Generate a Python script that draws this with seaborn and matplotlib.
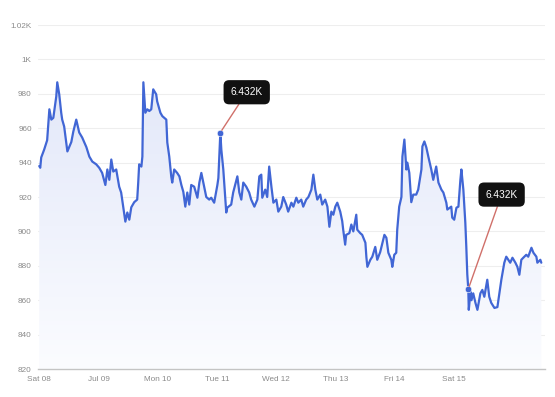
import numpy as np
import pandas as pd
import matplotlib
matplotlib.use('Agg')
import matplotlib.pyplot as plt
import seaborn as sns

# hours since Sat 2023-07-08 00:00
hours = [
    0.0, 0.4, 0.8, 2.0, 3.2, 4.1, 4.9, 5.7, 6.9, 7.3, 8.1, 8.9, 9.3, 10.1, 11.4,
    13.0, 13.8, 15.0, 16.2, 17.4, 19.1, 20.3, 21.5, 23.1, 24.3, 25.5, 26.8, 27.6,
    28.4, 29.2, 30.0, 31.2, 32.4, 33.2, 34.1, 34.9, 35.7, 36.5, 37.3, 38.5, 39.7,
    40.1, 40.5, 41.4, 41.8, 42.2, 43.0, 43.8, 44.6, 45.4, 46.2, 47.4, 47.8, 49.1,
    49.9, 51.5, 51.9, 52.7, 53.5, 53.9, 54.7, 55.9, 56.8, 57.6, 58.4, 59.2, 60.0,
    60.8, 61.6, 62.8, 64.1, 64.9, 65.7, 66.9, 67.7, 68.9, 69.7, 70.9, 72.2, 72.6,
    73.4, 73.8, 74.6, 75.8, 76.2, 77.8, 78.6, 80.3, 81.1, 81.9, 82.7, 83.9, 85.1,
    85.9, 87.2, 88.4, 89.2, 90.0, 90.4, 91.6, 92.4, 93.2, 94.1, 94.9, 96.1, 96.9,
    98.1, 98.9, 100.1, 100.9, 102.2, 103.0, 104.2, 105.0, 106.2, 107.0, 108.2,
    109.1, 110.3, 111.1, 111.9, 112.7, 113.9, 114.7, 115.9, 116.8, 117.6, 118.4,
    119.2, 120.0, 120.8, 122.0, 122.8, 123.2, 124.0, 124.4, 125.7, 126.5, 127.3,
    128.5, 128.9, 130.1, 130.9, 132.2, 132.6, 133.0, 134.2, 135.0, 136.2, 137.0,
    138.2, 139.1, 139.9, 140.7, 141.5, 142.7, 143.1, 143.9, 144.7, 145.1, 145.9,
    146.8, 147.2, 148.0, 148.8, 149.2, 150.0, 150.8, 151.6, 152.8, 153.6, 154.9,
    155.3, 156.1, 156.9, 157.7, 158.9, 159.7, 160.9, 161.8, 163.0, 163.8, 165.0,
    165.4, 167.0, 167.4, 168.2, 169.1, 169.9, 170.7, 171.1, 171.9, 172.7, 173.1,
    173.5, 173.9, 174.1, 174.8, 175.2, 175.9, 176.8, 177.6, 178.8, 179.6, 180.4,
    181.6, 182.4, 183.2, 184.5, 185.7, 186.5, 187.3, 188.5, 189.3, 190.1, 190.9,
    191.8, 193.0, 193.8, 194.6, 195.4, 196.2, 197.4, 198.2, 199.5, 200.3, 201.5,
    201.9, 203.1, 203.5,
]
values = [
    938, 937, 943, 947.6, 953, 971, 965, 966, 978.5, 986.7, 979.7, 969, 965, 961, 946.5,
    952, 958, 965, 957.5, 954.6, 949, 943.5, 940.6, 939, 937, 934, 927, 936,
    930, 941.8, 934.8, 936, 926, 922.6, 913.8, 905.7, 911, 906.8, 914, 917, 918.5,
    928, 939, 937.7, 943.5, 986.7, 969, 971, 970, 971, 982.6, 979.7, 975.6, 969,
    967, 965, 951.7, 943.5, 932, 928.4, 936, 934, 932, 927, 923, 914.4, 922.6,
    915.6, 927, 926, 919.6, 928.4, 934, 925.5, 920, 918.5, 919.6, 916.7, 927, 931,
    957.5, 947.6, 936, 911, 913.8, 915.6, 922.6, 932, 922.6, 918.5, 928.4, 926, 922.6,
    918.5, 914.4, 918.5, 932, 933, 919.6, 924.3, 920, 937.7, 926, 916.7, 918.5, 911.5,
    914.4, 920, 915.6, 911.5, 916.7, 914.4, 919.6, 916.7, 918.5, 914.4, 918.5,
    920, 924.3, 933, 924.3, 918.5, 921.4, 915.6, 918.5, 914.4, 902.7, 911.5,
    909.7, 914.4, 916.7, 911.5, 906, 901, 892.3, 898, 899, 904, 900,
    909.7, 901, 899, 898, 893.4, 885, 879.4, 883.5, 885.3, 891, 883.5,
    888, 893.4, 898, 896.3, 887.6, 883.5, 879.4, 886.4, 887.6, 901, 914.4,
    920, 943.5, 953.4, 936, 940, 934, 917, 921.4, 921.4, 924.3, 936,
    949.4, 952.3, 948.8, 943.5, 936, 930, 937.7, 928.4, 924.3, 922.6, 916.7,
    912.7, 914.4, 908, 906.8, 913.8, 914.4, 930, 936, 924.3, 905, 891,
    875, 866.5, 854.4, 865, 860, 864, 858.5, 854.4, 864, 866, 862,
    871.9, 862, 858.5, 855.5, 856, 864, 871.9, 881.8, 885.3, 883.5, 881.8,
    884.7, 881.8, 879.4, 874.8, 883.5, 884.7, 886.4, 885.3, 890.5, 887.6, 885.3,
    881.8, 883.5, 881.8,
]
annotated_hours = [73.4, 173.9]
annotation_text = '6.432K'

x_tick_labels = ['Sat 08', 'Jul 09', 'Mon 10', 'Tue 11', 'Wed 12', 'Thu 13', 'Fri 14', 'Sat 15']
y_ticks = [820, 840, 860, 880, 900, 920, 940, 960, 980, 1000, 1020]
y_tick_labels = ['820', '840', '860', '880', '900', '920', '940', '960', '980', '1K', '1.02K']

start = pd.Timestamp('2023-07-08')
df = pd.DataFrame({
    'time': start + pd.to_timedelta(hours, unit='h'),
    'value': values,
})

sns.set_theme(style='white')
plt.rcParams['font.family'] = ['Liberation Sans', 'DejaVu Sans']

fig = plt.figure(figsize=(5.55, 3.97), dpi=100)
ax = fig.add_axes([0.0685, 0.0705, 0.9135, 0.8665])

line_color = '#4166d5'
sns.lineplot(data=df, x='time', y='value', ax=ax, color=line_color, linewidth=1.6, zorder=3)

# gradient fill under the line
ymin, ymax = 820, 1020
poly = ax.fill_between(df['time'], df['value'], ymin, color='none', lw=0)
grad = np.linspace(0, 1, 256).reshape(-1, 1)
cmap = matplotlib.colors.LinearSegmentedColormap.from_list('fill', ['#fbfcff', '#e3e8f9'])
x0, x1 = matplotlib.dates.date2num(df['time'].iloc[0]), matplotlib.dates.date2num(df['time'].iloc[-1])
img = ax.imshow(grad, cmap=cmap, aspect='auto', origin='lower',
                extent=[x0, x1, ymin, max(values)], zorder=1)
img.set_clip_path(poly.get_paths()[0], transform=ax.transData)

# annotated points
offsets = [(19, 29), (24, 68)]
for h, off in zip(annotated_hours, offsets):
    t = start + pd.Timedelta(hours=h)
    v = df.loc[(df['time'] - t).abs().idxmin(), 'value']
    ax.scatter([t], [v], s=22, color=line_color, zorder=5, edgecolor='white', linewidth=0.4)
    ax.annotate(annotation_text, xy=(t, v), xytext=off, textcoords='offset points',
                ha='center', va='center', fontsize=7.3, color='white', zorder=6,
                bbox=dict(boxstyle='round,pad=0.7,rounding_size=0.55', fc='#111111', ec='none'),
                arrowprops=dict(arrowstyle='-', color='#d0706a', lw=1.0, shrinkA=0, shrinkB=2))

ax.set_ylim(ymin, ymax)
ax.set_xlim(start - pd.Timedelta(hours=0.5), start + pd.Timedelta(hours=205))
ax.set_yticks(y_ticks)
ax.set_yticklabels(y_tick_labels)
ax.set_xticks(pd.date_range(start, periods=len(x_tick_labels), freq='D'))
ax.set_xticklabels(x_tick_labels)
ax.set_xlabel('')
ax.set_ylabel('')

ax.grid(axis='y', color='#eeeeee', linewidth=0.8)
ax.grid(axis='x', visible=False)
for s in ['top', 'right', 'left']:
    ax.spines[s].set_visible(False)
ax.spines['bottom'].set_color('#c4c4c4')
ax.spines['bottom'].set_linewidth(1.0)
ax.tick_params(axis='x', length=3, width=0.8, color='#c4c4c4', labelsize=5.9, labelcolor='#8a8a8a', pad=2)
ax.tick_params(axis='y', length=0, labelsize=5.9, labelcolor='#8a8a8a', pad=4.5)

fig.savefig('out.png', dpi=100)
plt.close(fig)
